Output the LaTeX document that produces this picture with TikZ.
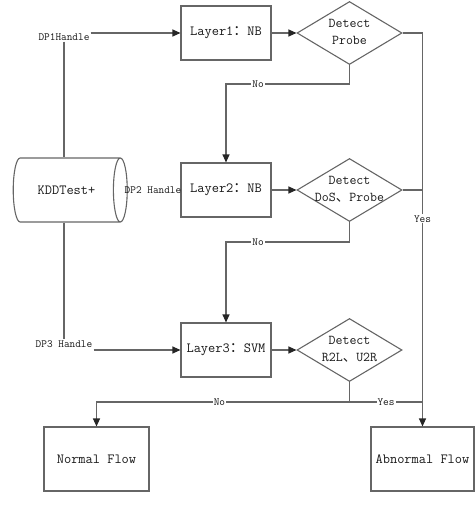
\documentclass[tikz,border=0pt]{standalone}
\usepackage{fontspec}
\newfontfamily\cjk{Noto Sans CJK SC}
\usetikzlibrary{shapes.geometric,arrows.meta}
\newcommand{\dtext}[2]{\makebox[40pt]{\begin{tabular}{@{}c@{}}#1\\#2\end{tabular}}}

\begin{document}
\begin{tikzpicture}[x=1pt,y=-1pt,
   every node/.style={font=\ttfamily\fontsize{14}{17}\selectfont,text=black!90},
   box/.style={draw=black!60,line width=1.1pt,minimum width=90pt,minimum height=54pt,inner sep=0pt},
   decide/.style={diamond,draw=black!60,line width=1.1pt,minimum width=105pt,minimum height=63pt,
      inner sep=0pt,shape aspect=1.6,font=\ttfamily\fontsize{13.5}{17}\selectfont},
   db/.style={cylinder,draw=black!60,line width=1.1pt,minimum width=64pt,minimum height=114pt,
      aspect=1.6,inner sep=0pt},
   tag/.style={font=\ttfamily\fontsize{11}{13}\selectfont,inner sep=1pt},
   lbl/.style={font=\ttfamily\fontsize{11}{13}\selectfont,inner sep=1pt,fill=white},
   line/.style={draw=black!60,line width=1.1pt},
   flow/.style={line,-{Triangle[length=8pt,width=7pt,color=black!85]}}]

   \useasboundingbox (0,0) rectangle (474,513);

   \node[box] (l1) at (226,33) {Layer1{\cjk ：}NB};
   \node[box] (l2) at (226,190) {Layer2{\cjk ：}NB};
   \node[box] (l3) at (226,350) {Layer3{\cjk ：}SVM};

   \node[decide] (d1) at (349.5,33) {\dtext{Detect}{Probe}};
   \node[decide] (d2) at (349.5,190) {\dtext{Detect}{DoS{\cjk 、}Probe}};
   \node[decide] (d3) at (349.5,350) {\dtext{Detect}{R2L{\cjk 、}U2R}};

   \node[db] (db) at (66.5,190) {KDDTest+};
   \node[tag] (dp1) at (64,37) {DP1Handle};
   \node[tag] (dp2) at (153,190) {DP2 Handle};
   \node[tag] (dp3) at (64,344) {DP3 Handle};

   \node[box,minimum width=105pt,minimum height=64pt] (nf) at (96.5,459) {Normal Flow};
   \node[box,minimum width=103pt,minimum height=64pt] (af) at (422.5,459) {Abnormal Flow};

   \coordinate (n1) at (349.5,84);
   \coordinate (n2) at (349.5,242);
   \coordinate (n3) at (349.5,402);

   % inputs
   \draw[flow] (dp1.east |- l1.west) -- (l1.west);
   \draw[line] (dp1.south) -- (dp1.south |- db.north);
   \draw[line] (dp3.north |- db.south) -- (dp3.north);
   \draw[flow] (dp3.east |- l3.west) -- (l3.west);

   % layers
   \draw[flow] (l1.east) -- (d1.west);
   \draw[flow] (l2.east) -- (d2.west);
   \draw[flow] (l3.east) -- (d3.west);

   % yes
   \draw[flow] (d1.east) -| node[lbl,pos=0.736] {Yes} (af.north);
   \draw[line] (d2.east) -- (d2.east -| af.north);
   \draw[line] (n3) -- node[lbl] {Yes} (n3 -| af.north);

   % no
   \draw[line] (d1.south) -- (n1);
   \draw[flow] (n1) -| node[lbl,pos=0.37] {No} (l2.north);
   \draw[line] (d2.south) -- (n2);
   \draw[flow] (n2) -| node[lbl,pos=0.37] {No} (l3.north);
   \draw[line] (d3.south) -- (n3);
   \draw[flow] (n3) -| node[lbl,pos=0.257] {No} (nf.north);

\end{tikzpicture}
\end{document}
